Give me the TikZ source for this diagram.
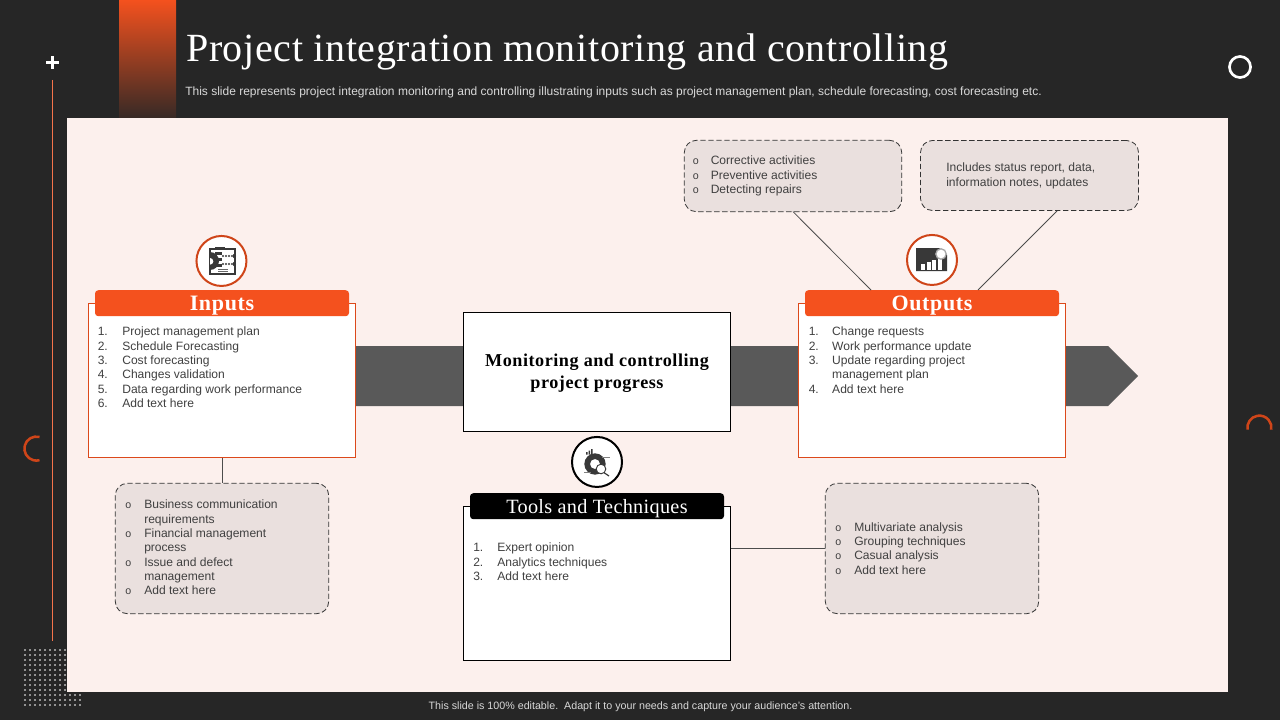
\documentclass[tikz,border=0pt]{standalone}
\usepackage{fontspec}
\setmainfont{Liberation Sans}
\newfontfamily\headfont[LetterSpace=3]{Liberation Serif}
\newfontfamily\titlefont[LetterSpace=1.5]{Liberation Serif}
\usetikzlibrary{positioning, calc}
\definecolor{slidebg}{HTML}{262626}
\definecolor{sheet}{HTML}{FCF0ED}
\definecolor{accent}{HTML}{F4511E}
\definecolor{railgray}{HTML}{595959}
\definecolor{notefill}{HTML}{EAE0DE}
\definecolor{bodytext}{HTML}{404040}
\definecolor{softtext}{HTML}{D9D9D9}
\newcommand{\rowlist}[2]{\begin{tabular}{@{}p{#1}@{}l@{}}#2\end{tabular}}
\newcommand{\ob}{{\fontsize{8}{8}\selectfont o}}

\begin{document}
\begin{tikzpicture}[
        x=0.75pt, y=-0.75pt,
        node distance=2.25pt and 3pt,
        panel/.style={rectangle, draw=accent!90!black, fill=white, line width=0.6pt, outer sep=0pt, minimum width=200.6pt, minimum height=115.9pt, inner sep=0pt},
        headbar/.style={rectangle, fill=accent, rounded corners=2.5pt, minimum width=190.5pt, minimum height=19.5pt, inner sep=0pt, text=white, text height=12.4pt, text depth=1.2pt, font=\headfont\bfseries\fontsize{16.5}{18}\selectfont},
        ring/.style={circle, draw=accent!85!black, fill=white, line width=1.5pt, minimum size=37.5pt, inner sep=0pt},
        note/.style={rectangle, draw=black!80, dash pattern=on 4pt off 2pt, fill=notefill, rounded corners=9pt, line width=0.6pt, outer sep=0pt, inner sep=0pt},
        listtext/.style={anchor=north west, inner sep=0pt, text=bodytext, font=\fontsize{9.05}{10.75}\selectfont},
        link/.style={draw=black!70, line width=0.6pt},
        icon/.style={fill=black!78, draw=none}
    ]
        \useasboundingbox (0,0) rectangle (1280,720);
        \fill [slidebg] (0,0) rectangle (1280,720);

        \foreach \dotx in {25,30,...,80}
            \foreach \doty in {650,655,...,705}
                \fill [white] (\dotx,\doty) circle [radius=0.7pt];

        \shade [top color=accent, bottom color=accent!8!slidebg] (119,0) rectangle (176,118);
        \fill [sheet] (67,118) rectangle (1228,692);

        \draw [white, line width=2.2pt] (46,62.5) -- (58.5,62.5) (52.2,56.5) -- (52.2,69);
        \draw [accent!80!white, line width=0.9pt] (52.5,80) -- (52.5,641);
        \draw [white, line width=2pt] (1240,67) circle [radius=7.9pt];
        \draw [accent!85!black, line width=1.9pt] (39.5,437) arc [start angle=75, end angle=285, radius=9pt];
        \draw [accent!85!black, line width=1.9pt] (1247.6,429.7) arc [start angle=190, end angle=-10, radius=9pt];

        \node [anchor=base west, inner sep=0pt, text=white, font=\titlefont\fontsize{30}{32}\selectfont] (title) at (186,61.5) {Project integration monitoring and controlling};
        \node [anchor=west, inner sep=0pt, text=softtext, font=\fontsize{9}{11}\selectfont] (subtitle) at (185,92) {This slide represents project integration monitoring and controlling illustrating inputs such as project management plan, schedule forecasting, cost forecasting etc.};
        \node [inner sep=0pt, text=softtext, font=\fontsize{8.02}{10}\selectfont] (footer) at (640.5,706.5) {This slide is 100\% editable.\ \ Adapt it to your needs and capture your audience's attention.};

        \fill [railgray] (350,346) -- (1108,346) -- (1138,376) -- (1108,406) -- (350,406) -- cycle;

        \node [panel] (inputs) at (222,380.5) {};
        \node [headbar] (inputshead) at (inputs.north) {Inputs};
        \node [ring, above=of inputshead, xshift=-0.4pt] (inputsring) {};
        \node [listtext] (inputslist) at (97.5,325.5) {\rowlist{18.4pt}{1.&Project management plan\\2.&Schedule Forecasting\\3.&Cost forecasting\\4.&Changes validation\\5.&Data regarding work performance\\6.&Add text here}};

        \node [panel, draw=black, minimum height=89.6pt] (progress) at (597,372) {};
        \node [align=center, text=black, font=\headfont\bfseries\fontsize{13.6}{16.4}\selectfont, yshift=-0.75pt] (progresstext) at (progress.center) {Monitoring and controlling\\project progress};

        \node [panel] (outputs) at (932,380.5) {};
        \node [headbar] (outputshead) at (outputs.north) {Outputs};
        \node [ring, above=of outputshead, yshift=0.75pt] (outputsring) {};
        \node [listtext] (outputslist) at (808.5,325.5) {\rowlist{17.6pt}{1.&Change requests\\2.&Work performance update\\3.&Update regarding project\\&management plan\\4.&Add text here}};

        \node [panel, draw=black] (tools) at (597,583.5) {};
        \node [headbar, fill=black, font=\titlefont\fontsize{15.2}{17}\selectfont] (toolshead) at (tools.north) {Tools and Techniques};
        \node [ring, draw=black, above=3.75pt of toolshead] (toolsring) {};
        \node [listtext] (toolslist) at (473,541.5) {\rowlist{18pt}{1.&Expert opinion\\2.&Analytics techniques\\3.&Add text here}};

        \node [note, minimum width=163pt, minimum height=53.5pt] (repairs) at (793,176) {};
        \node [listtext] (repairslist) at (692.5,154.5) {\rowlist{13.5pt}{\ob&Corrective activities\\\ob&Preventive activities\\\ob&Detecting repairs}};
        \node [note, minimum width=163.5pt, minimum height=52.5pt] (status) at (1029.5,175.5) {};
        \node [listtext, align=left] (statustext) at (946,162.7) {Includes status report, data,\\information notes, updates};
        \node [note, minimum width=160pt, minimum height=97.75pt] (inputsnote) at (222,548.5) {};
        \node [listtext] (inputsnotelist) at (125,498.5) {\rowlist{14.25pt}{\ob&Business communication\\&requirements\\\ob&Financial management\\&process\\\ob&Issue and defect\\&management\\\ob&Add text here}};
        \node [note, minimum width=160pt, minimum height=97.75pt] (toolsnote) at (932,548.5) {};
        \node [listtext] (toolsnotelist) at (835,521) {\rowlist{14.25pt}{\ob&Multivariate analysis\\\ob&Grouping techniques\\\ob&Casual analysis\\\ob&Add text here}};

        \coordinate (outleft) at (871,290);
        \coordinate (outright) at (978,290);
        \coordinate (statusfoot) at (1057,211);
        \draw [link] (repairs.south) -- (outleft);
        \draw [link] (statusfoot) -- (outright);
        \draw [link] (inputs.south) -- (inputsnote.north);
        \draw [link] (tools.east |- toolsnote.west) -- (toolsnote.west);

        \begin{scope}[shift={(221,261)}]
            \draw [black!78, line width=0.9pt] (-11,-12) rectangle (14,13);
            \fill [icon] (-6,-14.5) rectangle (4,-11);
            \fill [icon] (-11,-9) arc [start angle=90, end angle=-90, radius=6.75pt] -- cycle;
            \fill [white] (-11,-3) arc [start angle=90, end angle=-90, radius=2.5pt] -- cycle;
            \foreach \toothy in {-7,-1,5}
                \fill [icon] (-6,\toothy-2) rectangle (1,\toothy+1);
            \foreach \rowy in {-5,3} {
                \foreach \dotx in {2,5,8,11}
                    \fill [black!78] (\dotx,\rowy) circle [radius=0.9pt];
                \fill [black!78] (12,\rowy-2) -- (15,\rowy) -- (12,\rowy+2) -- cycle;
            }
            \draw [black!60, line width=0.5pt] (-3,8) -- (7,8) (-3,10.5) -- (7,10.5);
        \end{scope}

        \begin{scope}[shift={(932,260)}]
            \fill [icon] (-16,-12) -- (7,-12) -- (15,-5) -- (15,11) -- (-16,11) -- cycle;
            \fill [white] (-11,4) rectangle (-7,10);
            \fill [white] (-5.5,2) rectangle (-1.5,10);
            \fill [white] (0,0) rectangle (4,10);
            \fill [white] (5.5,-3) rectangle (9.5,10);
            \draw [black!35, fill=white, line width=1pt] (9,-6) circle [radius=3.9pt];
        \end{scope}

        \begin{scope}[shift={(597,462)}]
            \fill [icon, even odd rule] (-2,2) circle [radius=8pt] (-2,2) circle [radius=3.8pt];
            \draw [black!78, line width=0.9pt] (6,10) -- (12,14);
            \draw [black!78, fill=white, line width=0.7pt] (4,7) circle [radius=3.6pt];
            \fill [icon] (-11,-10) rectangle (-9.5,-7.5) (-8.5,-11.5) rectangle (-7,-7.5) (-6,-13) rectangle (-4.5,-7.5);
            \draw [black!50, line width=0.4pt] (5,-5) -- (13,-5) (-13,10) -- (-6,10);
        \end{scope}
    \end{tikzpicture}
\end{document}
